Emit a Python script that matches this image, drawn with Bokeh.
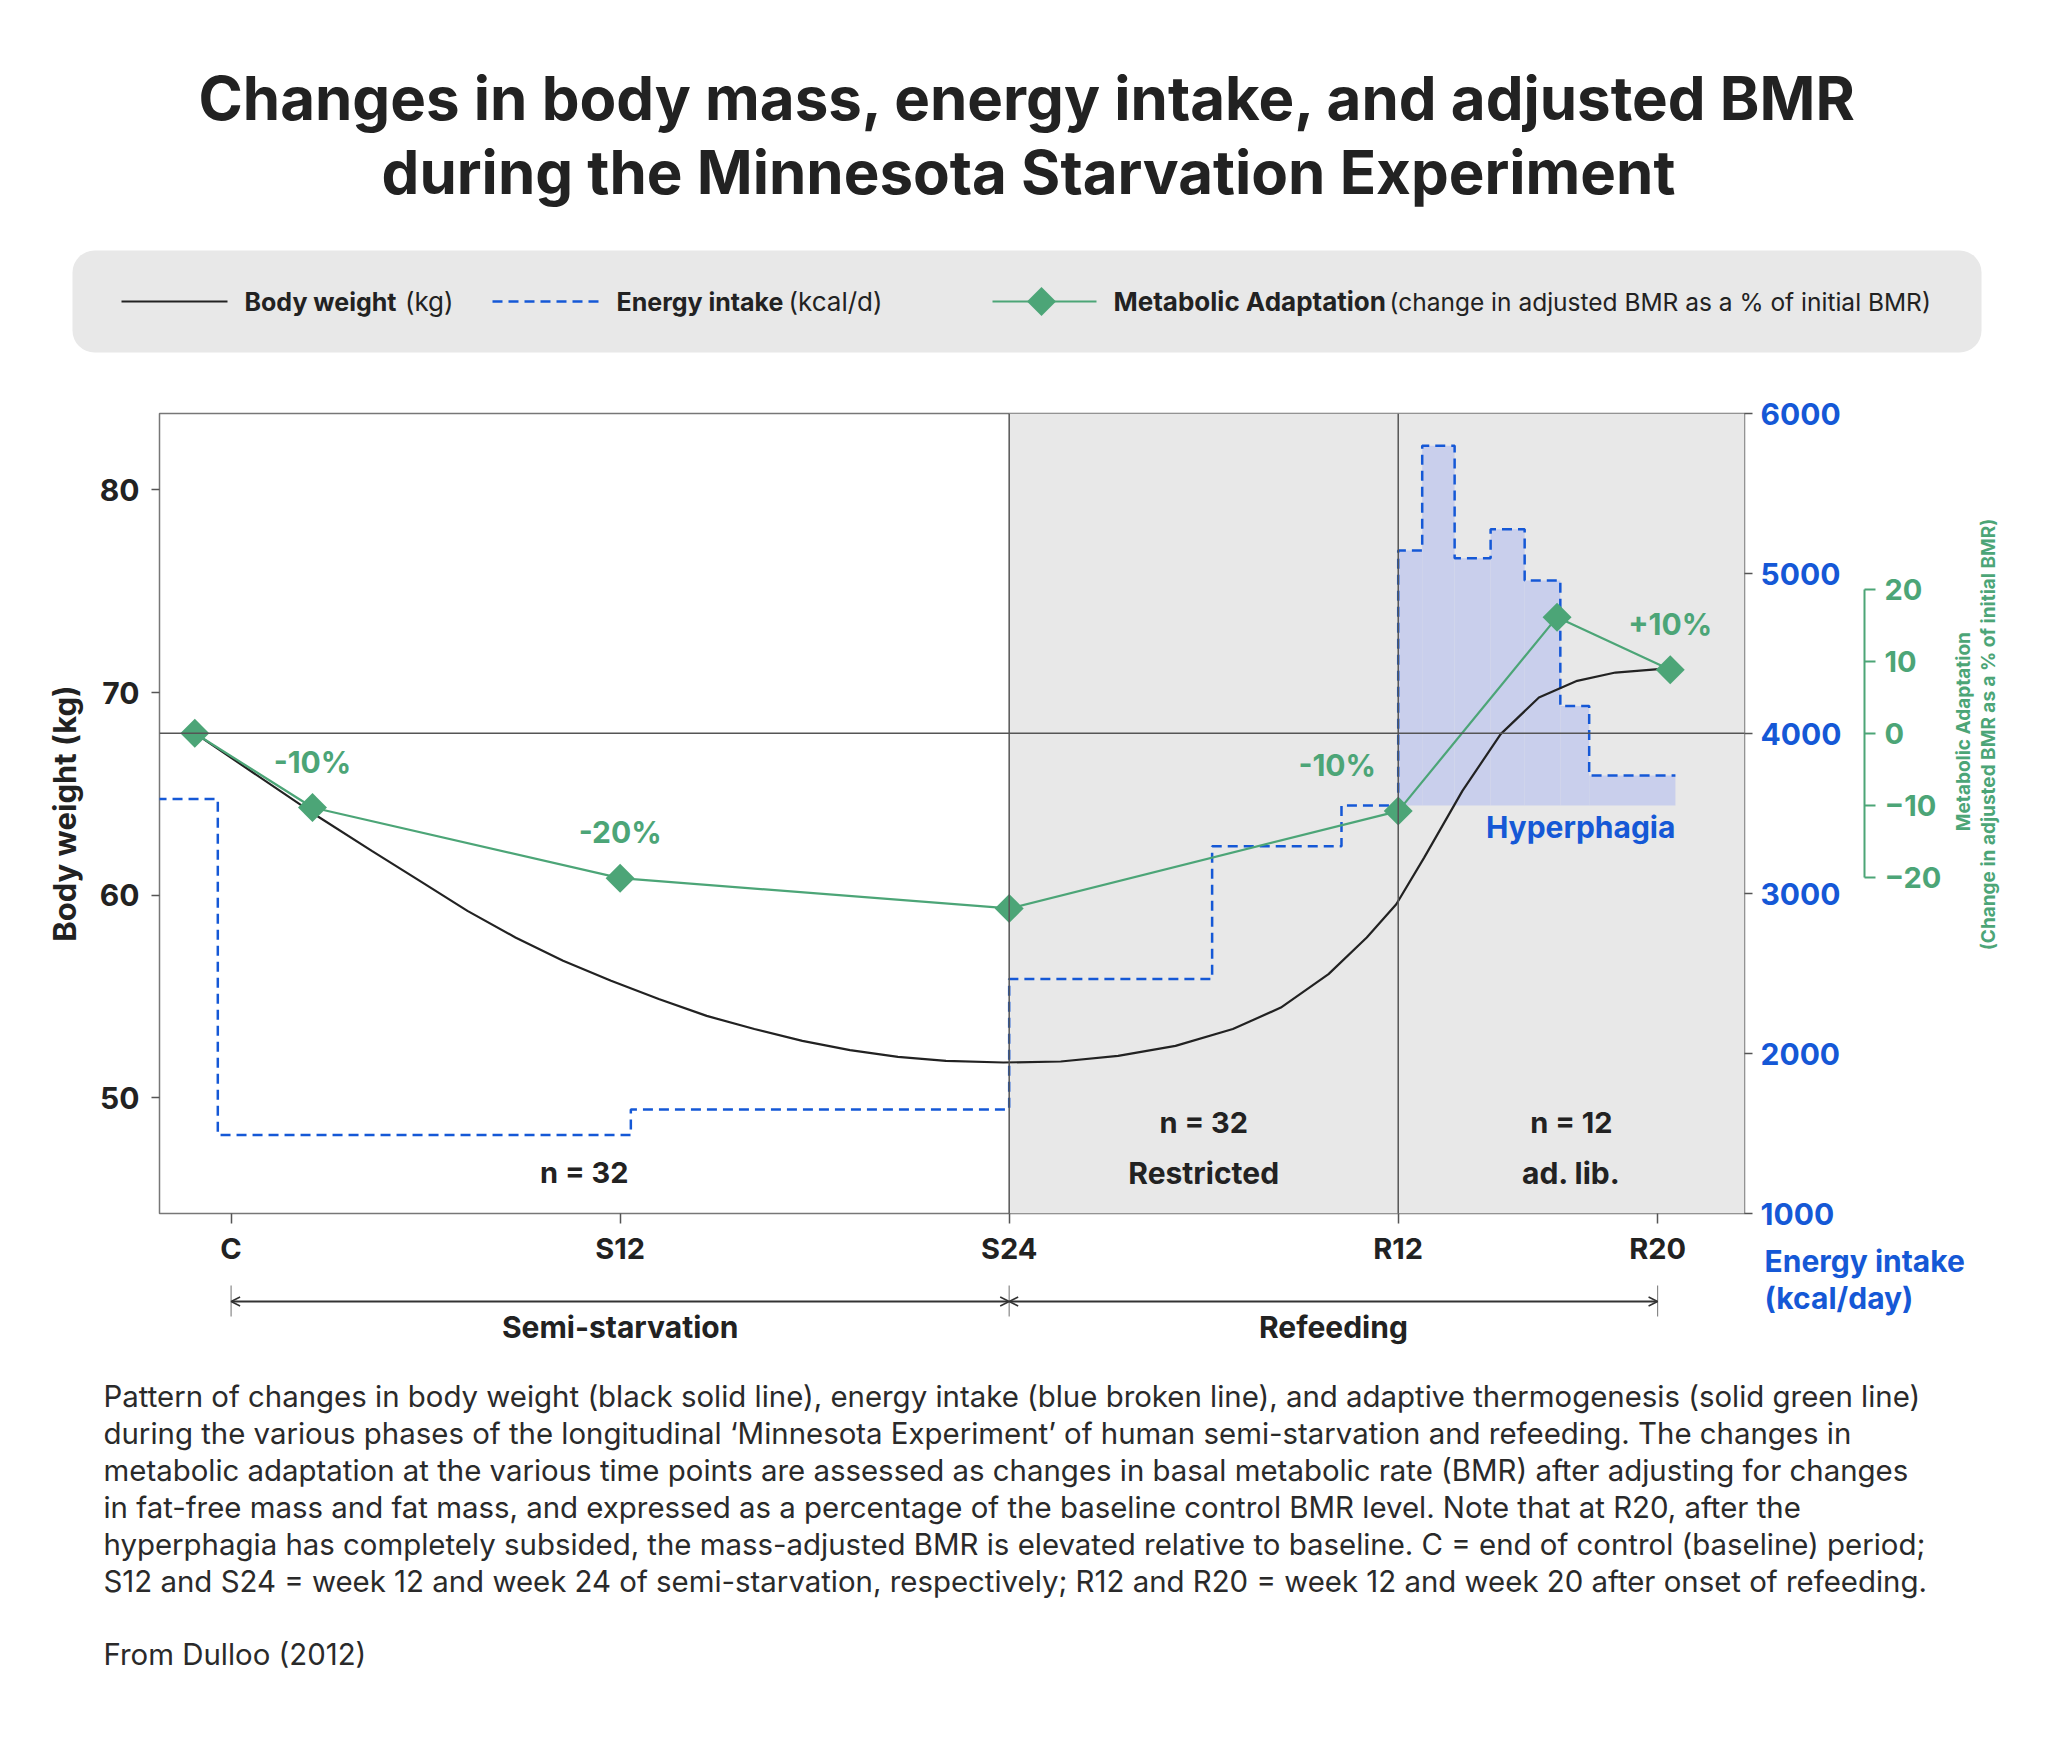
'''
Minnesota Starvation Experiment: body weight, energy intake and
metabolic adaptation over time (redrawn with Bokeh).
'''
from math import pi

from bokeh.plotting import figure
from bokeh.layouts import column, row
from bokeh.models import (Range1d, LinearAxis, FixedTicker, Span, BoxAnnotation,
                          Label, Arrow, OpenHead)
from bokeh.core.properties import value
from bokeh.embed import file_html
from bokeh.resources import INLINE

# ---- data ----
# x is weeks from the end of the control period
time_labels = ["C", "S12", "S24", "R12", "R20"]
time_weeks = [0, 12, 24, 36, 44]

bw_weeks = [-1.12, 2.57, 4.34, 5.82, 7.29, 8.77, 10.24, 11.72, 13.19, 14.67,
            16.14, 17.62, 19.09, 20.57, 22.05, 23.82, 25.59, 27.36, 29.13, 30.90,
            32.38, 33.85, 35.03, 35.94, 36.80, 37.98, 39.16, 40.34, 41.52, 42.70,
            44.03, 44.30]
bw_kg = [68.0, 64.00, 62.19, 60.71, 59.23, 57.92, 56.77, 55.78, 54.88, 54.05,
         53.40, 52.82, 52.36, 52.03, 51.83, 51.75, 51.80, 52.08, 52.57, 53.40,
         54.46, 56.11, 57.92, 59.56, 61.86, 65.15, 67.95, 69.76, 70.58, 70.99,
         71.16, 71.16]

intake_weeks = [-2.3, -0.41, 12.33, 24.0, 30.26, 34.25, 36.0, 36.74, 37.74,
                38.85, 39.9, 41.0, 41.89, 44.55]
intake_kcal = [3590, 1490, 1650, 2466, 3295, 3550, 5144, 5798, 5096, 5277,
               4957, 4172, 3737, 3737]

ma_weeks = [-1.12, 2.51, 12, 24, 36, 40.9, 44.39]
ma_pct = [0, -10.3, -20.1, -24.3, -10.8, 16.1, 8.8]
ma_label_idx = [1, 2, 4, 6]
ma_label_text = ["-10%", "-20%", "-10%", "+10%"]

title_lines = ["Changes in body mass, energy intake, and adjusted BMR",
               "during the Minnesota Starvation Experiment"]
caption_lines = [
    "Pattern of changes in body weight (black solid line), energy intake (blue broken line), and adaptive thermogenesis (solid green line)",
    "during the various phases of the longitudinal \u2018Minnesota Experiment\u2019 of human semi-starvation and refeeding. The changes in",
    "metabolic adaptation at the various time points are assessed as changes in basal metabolic rate (BMR) after adjusting for changes",
    "in fat-free mass and fat mass, and expressed as a percentage of the baseline control BMR level. Note that at R20, after the",
    "hyperphagia has completely subsided, the mass-adjusted BMR is elevated relative to baseline. C = end of control (baseline) period;",
    "S12 and S24 = week 12 and week 24 of semi-starvation, respectively; R12 and R20 = week 12 and week 20 after onset of refeeding.",
]
source_text = "From Dulloo (2012)"

# ---- styling ----
FONT = "Inter"
INK = "#222222"
BLUE = "#1558d6"
GREEN = "#4ca577"
SHADE = "#e8e8e8"
HYPER = "#c9cfec"

W, H = 2032, 1725
FL, FR, FT, FB = 159, 1744, 413, 1213   # plot frame edges (page pixels)
HEAD_H = 386                            # title + legend band
MID_B = 1231                            # bottom of the chart band
MAIN_W = 1950                           # chart figure width, the rest is the side band
PX_PER_WEEK, X0 = 32.42, 230.6          # horizontal scale of the time axis


def wk(px):
    return (px - X0) / PX_PER_WEEK


def blank(w, h, x_range, y_range):
    f = figure(width=w, height=h, x_range=x_range, y_range=y_range,
               output_backend="svg", toolbar_location=None,
               x_axis_location=None, y_axis_location=None, min_border=0)
    f.grid.visible = False
    f.outline_line_color = None
    f.background_fill_color = "white"
    f.border_fill_color = "white"
    return f


def txt(f, x, y, text, size, color=INK, bold=False, align="left", baseline="middle",
        angle=0, x_range_name="default"):
    f.text(x=[x], y=[y], text=[text], x_range_name=x_range_name,
           text_font=value(FONT), text_font_size=size, text_color=color,
           text_font_style="bold" if bold else "normal",
           text_align=align, text_baseline=baseline, angle=angle)


# ---- title and legend band ----
head = blank(W, HEAD_H, Range1d(0, W), Range1d(HEAD_H, 0))
txt(head, 1028, 97, title_lines[0], "60px", bold=True, align="center")
txt(head, 1028, 171, title_lines[1], "60px", bold=True, align="center")

head.add_layout(BoxAnnotation(left=72, right=1981, top=250, bottom=352,
                              fill_color=SHADE, fill_alpha=1, line_color=None,
                              border_radius=22, level="underlay"))
LY = 301
head.line([121, 227], [LY, LY], line_color=INK, line_width=2)
head.line([492, 598], [LY, LY], line_color=BLUE, line_width=2.5, line_dash="10 6")
head.line([992, 1096], [LY, LY], line_color=GREEN, line_width=2.2)
head.scatter([1041], [LY], marker="square", angle=pi / 4, size=20.5,
             fill_color=GREEN, line_color=None)
txt(head, 244, LY, "Body weight", "25px", bold=True)
txt(head, 453, LY, "(kg)", "26px", align="right")
txt(head, 616, LY, "Energy intake", "25px", bold=True)
txt(head, 882, LY, "(kcal/d)", "26px", align="right")
txt(head, 1113, LY, "Metabolic Adaptation", "26px", bold=True)
txt(head, 1389, LY, "(change in adjusted BMR as a % of initial BMR)", "24.5px")

# ---- main chart ----
p = figure(width=MAIN_W, height=MID_B - HEAD_H, output_backend="svg", toolbar_location=None,
           x_range=Range1d(wk(FL), wk(FR)), y_range=Range1d(44.30, 83.77),
           min_border_left=FL, min_border_right=MAIN_W - FR,
           min_border_top=FT - HEAD_H, min_border_bottom=MID_B - FB)
p.extra_y_ranges = {"energy": Range1d(1000, 6000), "pct": Range1d(-66.6, 44.34)}
p.xgrid.grid_line_color = None
p.ygrid.grid_line_color = None
p.outline_line_color = "#777777"
p.outline_line_width = 1.5
p.background_fill_color = "white"
p.border_fill_color = "white"

# shaded refeeding period
p.add_layout(BoxAnnotation(left=time_weeks[2], fill_color=SHADE, fill_alpha=1,
                           line_color=None, level="underlay"))

# hyperphagia: ad lib intake above the last restricted level
base = intake_kcal[5]
p.quad(left=intake_weeks[6:-1], right=intake_weeks[7:], top=intake_kcal[6:-1],
       bottom=base, y_range_name="energy", fill_color=HYPER, line_color=None)

p.add_layout(Span(location=bw_kg[0], dimension="width", line_color="#555555",
                  line_width=1.5, level="glyph"))
for w in (time_weeks[2], time_weeks[3]):
    p.add_layout(Span(location=w, dimension="height", line_color="#555555",
                      line_width=1.5, level="glyph"))

p.step(intake_weeks, intake_kcal, mode="after", y_range_name="energy",
       line_color=BLUE, line_width=2.5, line_dash="10 6")
p.line(bw_weeks, bw_kg, line_color=INK, line_width=2.2)
p.line(ma_weeks, ma_pct, y_range_name="pct", line_color=GREEN, line_width=2.2)
p.scatter(ma_weeks, ma_pct, y_range_name="pct", marker="square", angle=pi / 4,
          size=20.5, fill_color=GREEN, line_color=None)
p.text(x=[ma_weeks[i] for i in ma_label_idx], y=[ma_pct[i] for i in ma_label_idx],
       text=ma_label_text, x_offset=[0, 0, -61, 0], y_offset=-46,
       y_range_name="pct", text_align="center", text_baseline="middle",
       text_font=value(FONT), text_font_size="30px", text_font_style="bold",
       text_color=GREEN)


def label(x, py, text, size, color=INK, align="center"):
    p.add_layout(Label(x=x, y=FB - py, y_units="screen", text=text,
                       text_font=FONT, text_font_size=size, text_color=color,
                       text_font_style="bold", text_align=align, text_baseline="middle"))


x0, x1 = p.x_range.start, p.x_range.end
label((x0 + time_weeks[2]) / 2, 1172, "n = 32", "29px")
label((time_weeks[2] + time_weeks[3]) / 2, 1122, "n = 32", "29px")
label((time_weeks[2] + time_weeks[3]) / 2, 1172, "Restricted", "30px")
label((time_weeks[3] + x1) / 2, 1122, "n = 12", "29px")
label((time_weeks[3] + x1) / 2, 1172, "ad. lib.", "30px")
label(intake_weeks[-1], 826, "Hyperphagia", "30px", color=BLUE, align="right")

# axes
ya = p.yaxis[0]
ya.ticker = FixedTicker(ticks=[50, 60, 70, 80])
ya.axis_label = "Body weight (kg)"
ya.axis_label_text_font = FONT
ya.axis_label_text_font_size = "31px"
ya.axis_label_text_font_style = "bold"
ya.axis_label_text_color = INK
ya.axis_label_standoff = 14

xa = p.xaxis[0]
xa.ticker = FixedTicker(ticks=time_weeks)

ea = LinearAxis(y_range_name="energy", ticker=FixedTicker(ticks=[1000, 2000, 3000, 4000, 5000, 6000]))
ea.axis_label = " "                 # blank label only spaces the next axis out
ea.axis_label_text_font_size = "10px"
ea.axis_label_standoff = 6
ga = LinearAxis(y_range_name="pct", bounds=(-20, 20),
                ticker=FixedTicker(ticks=[-20, -10, 0, 10, 20]))
p.add_layout(ea, "right")
p.add_layout(ga, "right")

for ax, col, tick_out, standoff, size in ((ya, INK, 8, 12, "30px"), (xa, INK, 10, 0, "1px"),
                                          (ea, BLUE, 8, 8, "30px")):
    ax.axis_line_color = None
    ax.major_tick_line_color = "#555555"
    ax.major_tick_line_width = 1.5
    ax.major_tick_out = tick_out
    ax.major_tick_in = 0
    ax.minor_tick_line_color = None
    ax.major_label_standoff = standoff
    ax.major_label_text_font = FONT
    ax.major_label_text_font_size = size
    ax.major_label_text_font_style = "bold"
    ax.major_label_text_color = col
xa.major_label_text_alpha = 0       # time labels are written in the band below

ga.axis_line_color = GREEN
ga.axis_line_width = 2
ga.major_tick_line_color = GREEN
ga.major_tick_line_width = 2
ga.major_tick_out = 11
ga.major_tick_in = 0
ga.minor_tick_line_color = None
ga.major_label_standoff = 9
ga.major_label_text_font = FONT
ga.major_label_text_font_size = "29px"
ga.major_label_text_font_style = "bold"
ga.major_label_text_color = GREEN

# ---- side band: title of the metabolic adaptation axis ----
side = blank(W - MAIN_W, MID_B - HEAD_H, Range1d(MAIN_W, W), Range1d(MID_B, HEAD_H))
txt(side, 1963, 722, "Metabolic Adaptation", "19px", color=GREEN, bold=True,
    align="center", angle=pi / 2)
txt(side, 1988, 725, "(Change in adjusted BMR as a % of initial BMR)", "19px", color=GREEN,
    bold=True, align="center", angle=pi / 2)

# ---- bottom band: time labels, phase brackets, caption ----
foot = blank(W, H - MID_B, Range1d(wk(0), wk(W)), Range1d(H, MID_B))
foot.extra_x_ranges = {"px": Range1d(0, W)}
foot.text(x=time_weeks, y=[1248] * len(time_weeks), text=time_labels,
          text_font=value(FONT), text_font_size="29px", text_font_style="bold",
          text_color=INK, text_align="center", text_baseline="middle")
txt(foot, 1764, 1260, "Energy intake", "30px", color=BLUE, bold=True, x_range_name="px")
txt(foot, 1764, 1297, "(kcal/day)", "30px", color=BLUE, bold=True, x_range_name="px")

BY = 1301
edges = [time_weeks[0], time_weeks[2], time_weeks[4]]
for a, b in zip(edges[:-1], edges[1:]):
    foot.add_layout(Arrow(x_start=a, y_start=BY, x_end=b, y_end=BY,
                          start=OpenHead(size=9, line_width=1.5, line_color="#333333"),
                          end=OpenHead(size=9, line_width=1.5, line_color="#333333"),
                          line_color="#333333", line_width=2))
foot.segment(x0=edges, y0=1285, x1=edges, y1=1316, line_color="#888888", line_width=1.2)
txt(foot, (edges[0] + edges[1]) / 2, 1326, "Semi-starvation", "30px", bold=True, align="center")
txt(foot, (edges[1] + edges[2]) / 2, 1326, "Refeeding", "30px", bold=True, align="center")

for i, line in enumerate(caption_lines):
    txt(foot, 103, 1396 + 37 * i, line, "29.4px", color="#2a2a2a", x_range_name="px")
txt(foot, 103, 1654, source_text, "29.4px", color="#2a2a2a", x_range_name="px")

layout = column(head, row(p, side), foot)
open("out.html", "w").write(file_html(layout, INLINE))
